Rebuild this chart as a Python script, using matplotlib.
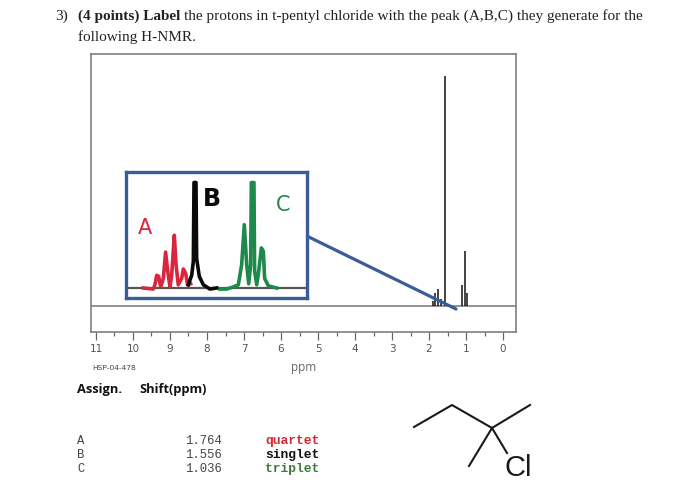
import matplotlib
matplotlib.use("Agg")
import matplotlib.pyplot as plt

W, H = 700, 504

# stick spectrum, whole range
stick_ppm = [1.90, 1.84, 1.75, 1.68, 1.556, 1.10, 1.036, 0.97]
stick_int = [2, 5.5, 7.6, 3, 100, 9, 24, 5.6]
tick_vals = list(range(0, 12))

# zoomed traces for the inset
a_ppm = [2.026, 1.935, 1.920, 1.904, 1.886, 1.868, 1.844, 1.823, 1.804, 1.783, 1.768, 1.744, 1.729, 1.708, 1.677, 1.662, 1.641, 1.623, 1.595]
a_int = [0, -1, 3, 12, 11, 1, 9, 34, 16, 1, 12, 50, 23, 3, 9, 18, 14, 3, 4]
b_ppm = [1.617, 1.586, 1.571, 1.565, 1.547, 1.541, 1.517, 1.480, 1.420, 1.359]
b_int = [3, 12, 25, 100, 100, 28, 11, 3, -1, 0]
c_ppm = [1.329, 1.268, 1.208, 1.162, 1.132, 1.108, 1.086, 1.068, 1.050, 1.044, 1.020, 1.014, 0.995, 0.977, 0.953, 0.935, 0.923, 0.889, 0.814]
c_int = [-1, -1, 1, 3, 22, 60, 22, 4, 22, 100, 100, 16, 3, 16, 38, 35, 9, 2, 0]

# table under the spectrum
assign = ["A", "B", "C"]
shifts = ["1.764", "1.556", "1.036"]
mult = ["quartet", "singlet", "triplet"]
mult_col = ["#d42a35", "#111111", "#3f7a3c"]

# skeleton of the molecule, pixels
bond_x = [414, 452, 492, 530]
bond_y = [427, 405, 428, 405]
me_x = [492, 469]
me_y = [428, 466]
cl_x = [492, 507]
cl_y = [428, 453]

BLUE = "#3b5d97"
GRAY = "#7f7f7f"


def box(x0, y0, x1, y1):
    return [x0 / W, 1 - y1 / H, (x1 - x0) / W, (y1 - y0) / H]


fig = plt.figure(figsize=(7, 5.04), dpi=100, facecolor="white")

ax = fig.add_axes(box(91, 54, 516, 332))
ax.vlines(stick_ppm, 0, stick_int, color="#111111", lw=1.1, zorder=3)
ax.axhline(0, color="#8a8a8a", lw=1.3, zorder=2)
ax.plot([5.297, 1.27], [30.4, -1.3], color=BLUE, lw=2.3, zorder=4, solid_capstyle="round")
ax.set_xlim(11.135, -0.351)
ax.set_ylim(-11.3, 109.6)
ax.set_yticks([])
ax.set_xticks(tick_vals)
ax.set_xticks([v + 0.5 for v in tick_vals[:-1]], minor=True)
ax.tick_params(axis="x", which="major", length=6, width=0.9, color="#666666", labelcolor="#555555", labelsize=7.5, pad=2.5)
ax.tick_params(axis="x", which="minor", length=3, width=0.9, color="#666666")
for s in ax.spines.values():
    s.set_color(GRAY)
    s.set_linewidth(1.2)

ins = fig.add_axes(box(126, 172, 307, 298), zorder=5)
ins.axhline(0, color="#555555", lw=1.6, zorder=1)
ins.plot(a_ppm, a_int, color="#d9263f", lw=2.6, zorder=2)
ins.plot(b_ppm, b_int, color="#0a0a0a", lw=2.6, zorder=3)
ins.plot(c_ppm, c_int, color="#1d8a4b", lw=2.6, zorder=2)
ins.set_xlim(2.183, 0.538)
ins.set_ylim(-9.5, 110)
ins.set_xticks([])
ins.set_yticks([])
for s in ins.spines.values():
    s.set_color(BLUE)
    s.set_linewidth(2.4)
ins.text(2.01, 57, "A", color="#d9263f", fontsize=15, ha="center", va="center")
ins.text(1.40, 84, "B", color="#0a0a0a", fontsize=17, fontweight="bold", ha="center", va="center")
ins.text(0.756, 79, "C", color="#1d8a4b", fontsize=15, ha="center", va="center")

# overlay in pixels for the page text
pg = fig.add_axes([0, 0, 1, 1], zorder=6)
pg.set_xlim(0, W)
pg.set_ylim(H, 0)
pg.axis("off")
pg.patch.set_alpha(0)

serif = {"family": "Liberation Serif", "fontsize": 11, "color": "#222222", "va": "center"}
pg.text(55, 16, "3)", **serif)
pg.text(78, 16, "(4 points) Label", fontweight="bold", **serif)
pg.text(184, 16, "the protons in t-pentyl chloride with the peak (A,B,C) they generate for the", **serif)
pg.text(78, 37, "following H-NMR.", **serif)

pg.text(304, 367, "ppm", color="#666666", fontsize=8.5, ha="center", va="center", family="Open Sans")
pg.text(92, 368, "HSP-04-478", color="#444444", fontsize=5.4, va="center")
pg.text(77, 390, "Assign.", color="#111111", fontsize=9.3, fontweight="bold", va="center", family="Open Sans")
pg.text(139, 390, "Shift(ppm)", color="#111111", fontsize=9.3, fontweight="bold", va="center", family="Open Sans")

for i in range(3):
    y = 441 + i * 14
    pg.text(77, y, assign[i], family="Liberation Mono", fontsize=8.8, color="#444444", va="center")
    pg.text(185, y, shifts[i], family="Liberation Mono", fontsize=8.8, color="#444444", va="center")
    pg.text(265, y, mult[i], family="Liberation Mono", fontsize=9.4, color=mult_col[i], fontweight="bold", va="center")

pg.plot(bond_x, bond_y, color="#1a1a1a", lw=1.5)
pg.plot(me_x, me_y, color="#1a1a1a", lw=1.5)
pg.plot(cl_x, cl_y, color="#1a1a1a", lw=1.5)
pg.text(518, 468, "Cl", family="Liberation Sans", fontsize=21, color="#1a1a1a", ha="center", va="center")

fig.savefig("out.png", dpi=100)
